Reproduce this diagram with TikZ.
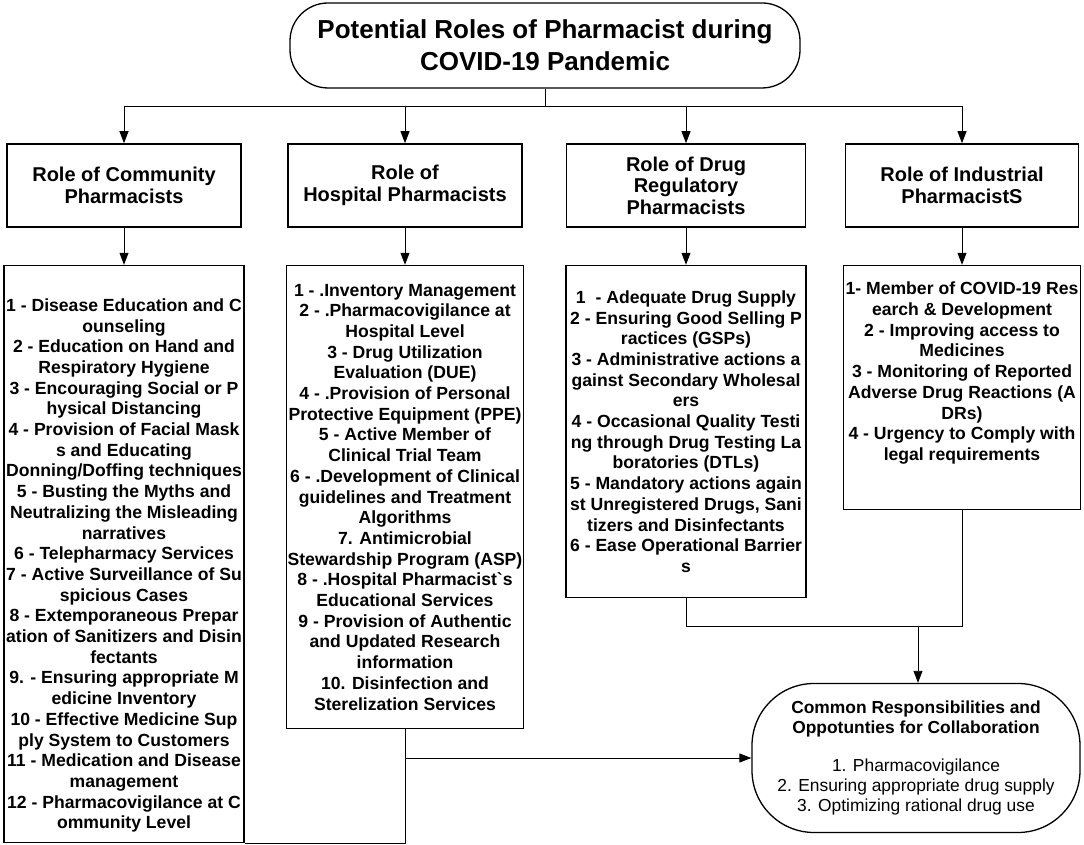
\documentclass[tikz,border=0pt]{standalone}
\usepackage{fontspec}
\setmainfont{Liberation Sans}
\usepackage{tikz}
\usetikzlibrary{arrows.meta, positioning}

\begin{document}
\begin{tikzpicture}[
    x=1pt, y=1pt,
    every node/.style={font=\fontsize{17.6}{20.7}\selectfont\bfseries},
    pill/.style={draw,rectangle,rounded corners=38pt,line width=1.3pt,align=center},
    rolebox/.style={draw,rectangle,line width=1.6pt,minimum height=83pt,align=center,
                    font=\fontsize{20}{21.5}\selectfont\bfseries},
    listbox/.style={draw,rectangle,line width=1.6pt,align=center,inner sep=1pt},
    link/.style={line width=0.9pt},
    arr/.style={link,-{Triangle[length=12pt,width=9pt]}}
]

\useasboundingbox (0,0) rectangle (1084,845);

% Top
\node[pill, minimum width=510pt, minimum height=85pt,
      font=\fontsize{26}{32}\selectfont\bfseries] (top) at (545,799.5)
      {Potential Roles of Pharmacist during\\COVID-19 Pandemic};

% Role boxes
\node[rolebox, minimum width=234pt] (comm) at (124,659.5) {Role of Community\\Pharmacists};
\node[rolebox, minimum width=234pt] (hosp) at (405,659.5) {Role of\\Hospital Pharmacists};
\node[rolebox, minimum width=239pt] (reg)  at (686,659.5) {Role of Drug\\Regulatory\\Pharmacists};
\node[rolebox, minimum width=233pt] (ind)  at (962,659.5) {Role of Industrial\\PharmacistS};

% List boxes
\node[listbox, below=37pt of comm, minimum width=240pt, minimum height=577pt] (commlist)
  {1 - Disease Education and C\\ounseling\\2 - Education on Hand and\\Respiratory Hygiene\\
   3 - Encouraging Social or P\\hysical Distancing\\4 - Provision of Facial Mask\\s and Educating\\
   Donning/Doffing techniques\\5 - Busting the Myths and\\Neutralizing the Misleading\\narratives\\
   6 - Telepharmacy Services\\7 - Active Surveillance of Su\\spicious Cases\\
   8 - Extemporaneous Prepar\\ation of Sanitizers and Disin\\fectants\\
   9. - Ensuring appropriate M\\edicine Inventory\\10 - Effective Medicine Sup\\ply System to Customers\\
   11 - Medication and Disease\\management\\12 - Pharmacovigilance at C\\ommunity Level\\[-40pt]};
\node[listbox, below=37pt of hosp, minimum width=234pt, minimum height=463pt] (hosplist)
  {1 - .Inventory Management\\2 - .Pharmacovigilance at\\Hospital Level\\3 - Drug Utilization\\
   Evaluation (DUE)\\4 - .Provision of Personal\\Protective Equipment (PPE)\\5 - Active Member of\\
   Clinical Trial Team\\6 - .Development of Clinical\\guidelines and Treatment\\Algorithms\\
   7. Antimicrobial\\Stewardship Program (ASP)\\8 - .Hospital Pharmacist\textasciigrave s\\Educational Services\\
   9 - Provision of Authentic\\and Updated Research\\information\\10. Disinfection and\\
   Sterelization Services};
\node[listbox, below=37pt of reg, minimum width=240pt, minimum height=332pt] (reglist)
  {1\ \ - Adequate Drug Supply\\2 - Ensuring Good Selling P\\ractices (GSPs)\\
   3 - Administrative actions a\\gainst Secondary Wholesal\\ers\\
   4 - Occasional Quality Testi\\ng through Drug Testing La\\boratories (DTLs)\\
   5 - Mandatory actions again\\st Unregistered Drugs, Sani\\tizers and Disinfectants\\
   6 - Ease Operational Barrier\\s};
\node[listbox, below=37pt of ind, minimum width=237pt, minimum height=244pt] (indlist)
  {1- Member of COVID-19 Res\\earch \& Development\\2 - Improving access to\\Medicines\\
   3 - Monitoring of Reported\\Adverse Drug Reactions (A\\DRs)\\
   4 - Urgency to Comply with\\legal requirements\\[12pt]};

% Common box
\node[pill, rounded corners=62pt, minimum width=328pt, minimum height=149pt,
      font=\fontsize{17.4}{19.6}\selectfont\bfseries] (common) at (916,87)
  {Common Responsibilities and\\Oppotunties for Collaboration\\[19pt]
   \mdseries 1. Pharmacovigilance\\\mdseries 2. Ensuring appropriate drug supply\\
   \mdseries 3. Optimizing rational drug use};

% Top connections
\coordinate (bus) at (545,739);
\draw[link] (top.south) -- (bus);
\draw[link] (comm.north |- bus) -- (ind.north |- bus);
\foreach \n in {comm,hosp,reg,ind} {
  \draw[arr] (\n.north |- bus) -- (\n.north);
  \draw[arr] (\n.south) -- (\n list.north);
}

% Bottom connections
\coordinate (joinR) at (918,219);
\draw[link] (reglist.south) -- (reglist.south |- joinR) -- (indlist.south |- joinR) -- (indlist.south);
\draw[arr] (joinR) -- (joinR |- common.north);
\coordinate (joinL) at (hosplist.south |- common.west);
\draw[link] (commlist.south east) -- (commlist.south east -| hosplist.south) -- (hosplist.south);
\draw[arr] (joinL) -- (common.west);

\end{tikzpicture}
\end{document}
